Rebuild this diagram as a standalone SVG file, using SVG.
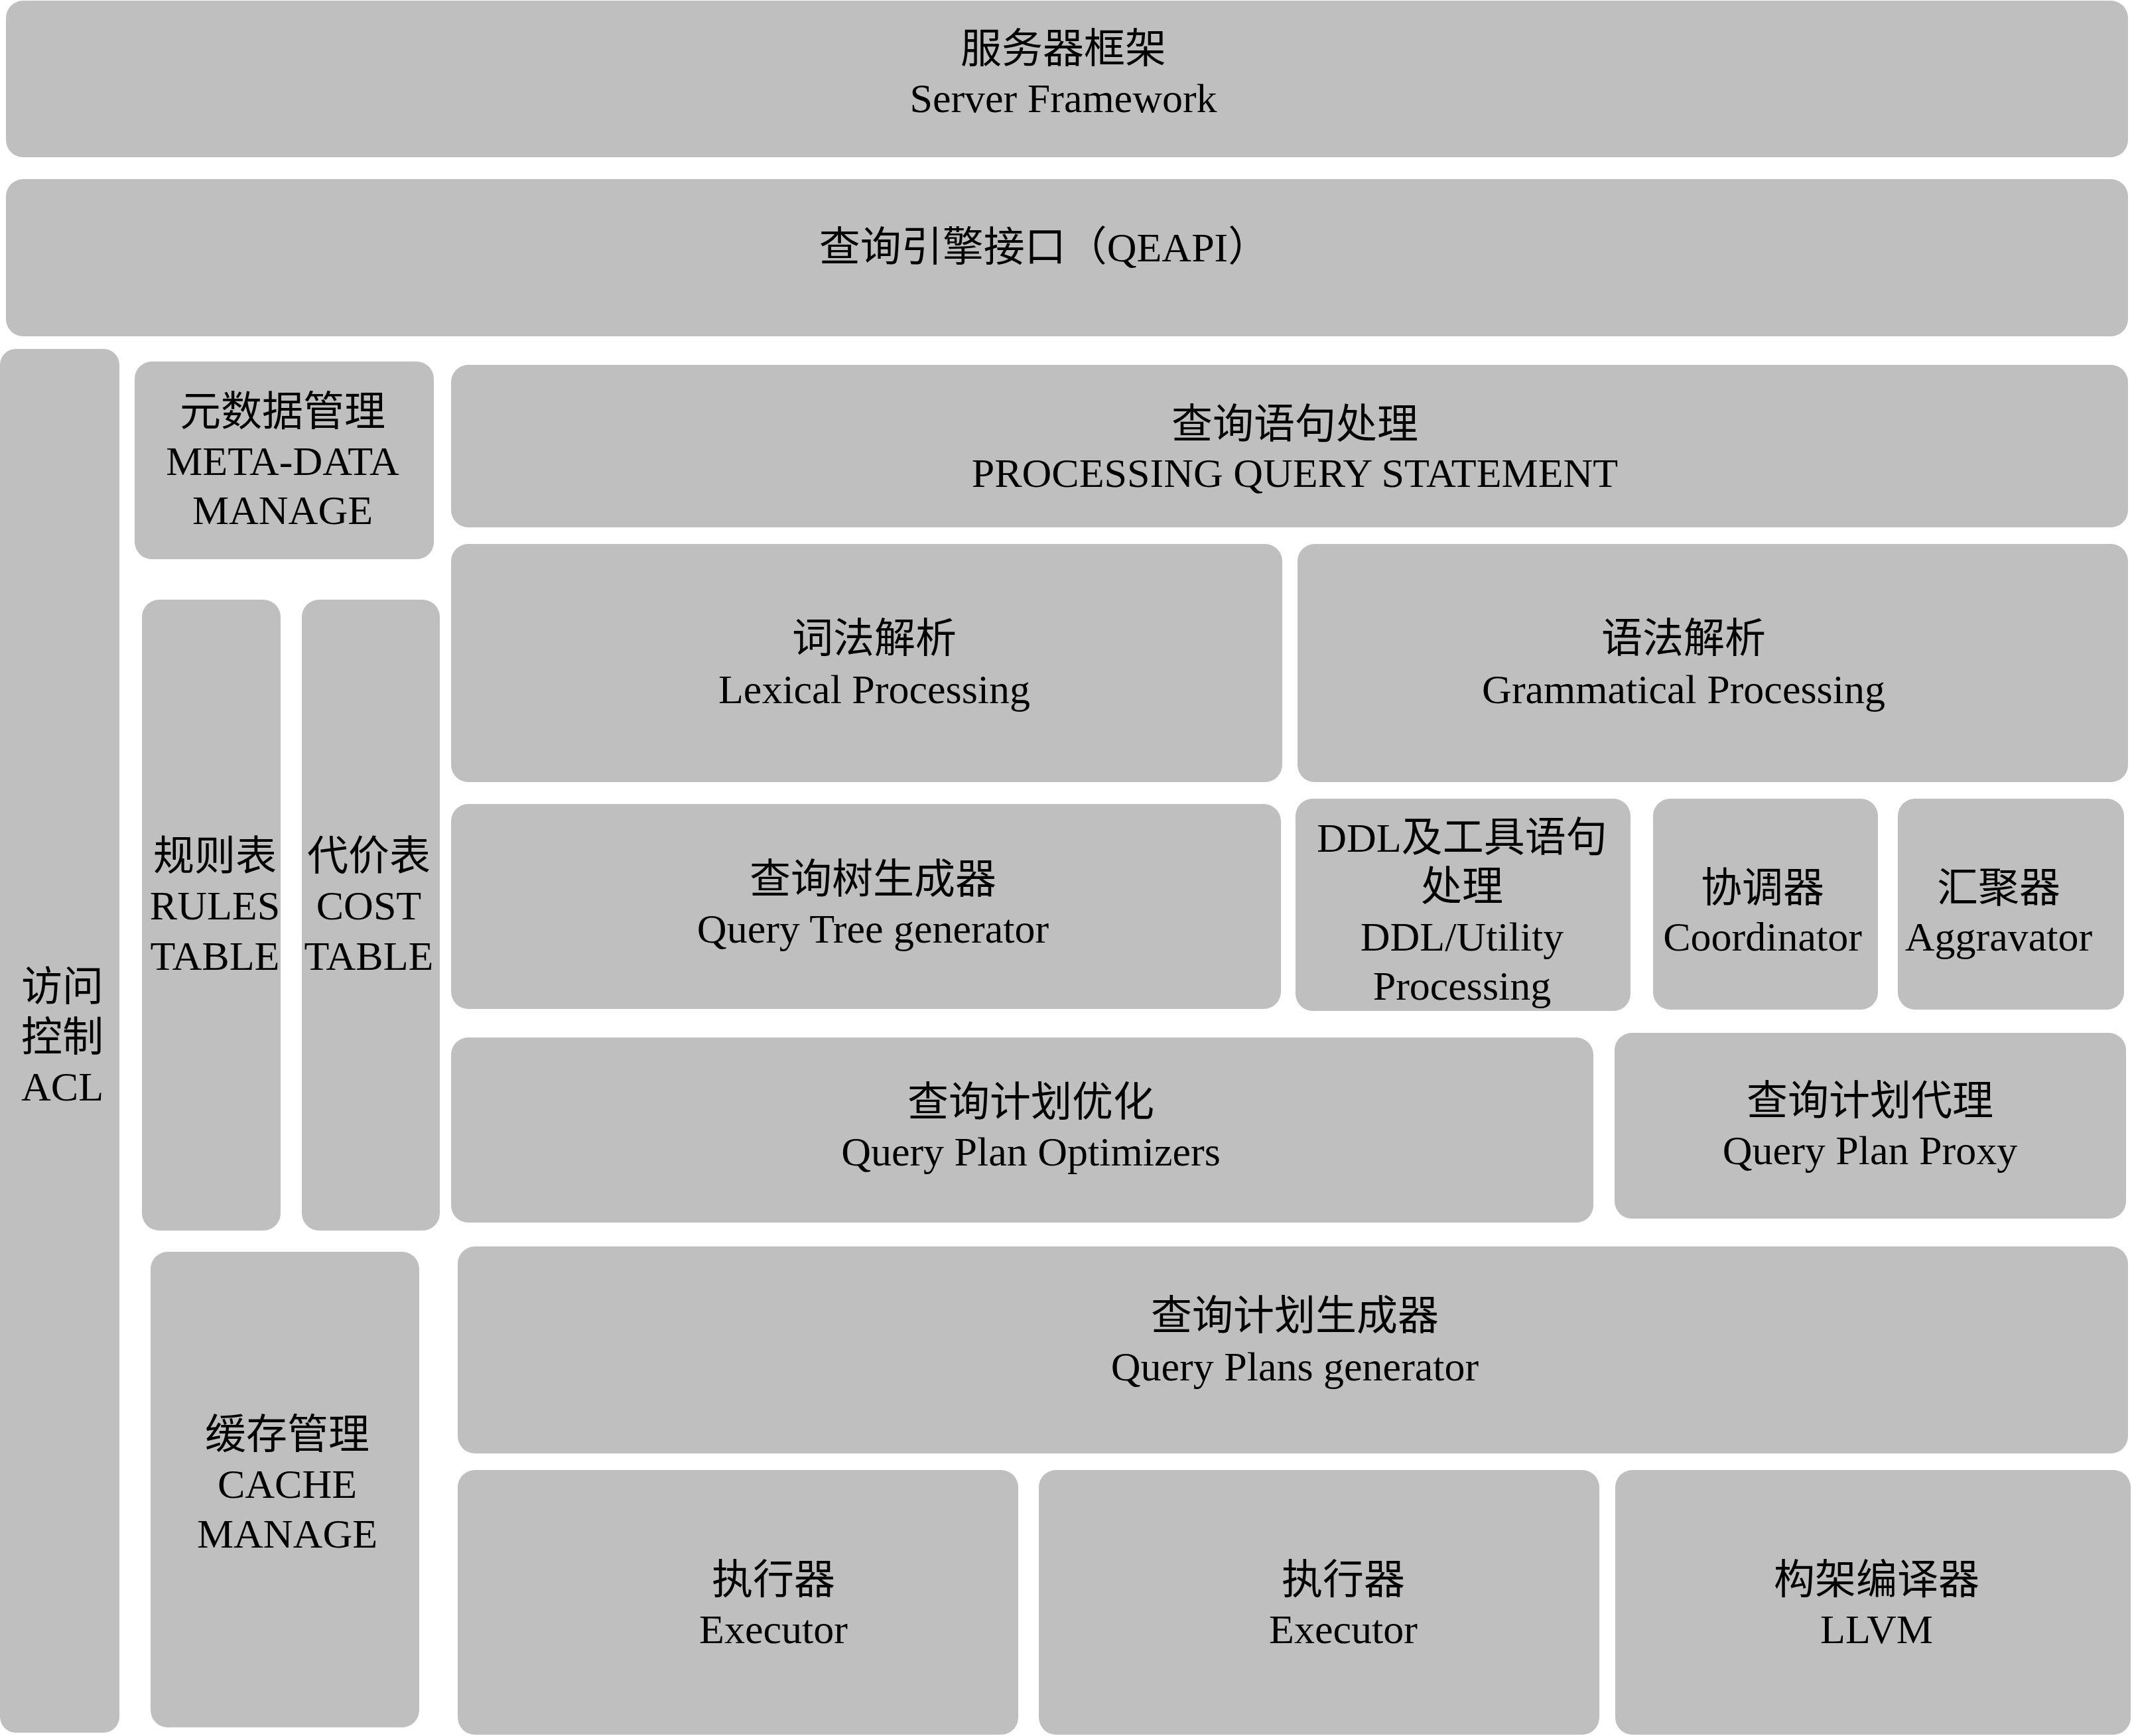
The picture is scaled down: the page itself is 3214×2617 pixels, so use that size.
<svg xmlns="http://www.w3.org/2000/svg" width="3214" height="2617" viewBox="0 0 3214 2617">
<style>
.b{fill:#bfbfbf;}
text{font-family:"Liberation Serif","Noto Sans CJK SC",serif;font-size:62px;fill:#000;text-anchor:middle;}
</style>
<rect width="3214" height="2617" fill="#ffffff"/>
<g id="server-framework"><rect class="b" x="9" y="1" width="3199" height="236" rx="26"/>
<text x="1603" y="95">服务器框架</text><text x="1603" y="169">Server Framework</text></g>
<g id="qeapi"><rect class="b" x="9" y="270" width="3199" height="237" rx="26"/>
<text x="1574" y="394">查询引擎接口（QEAPI）</text></g>
<g id="acl"><rect class="b" x="0" y="526" width="180" height="2086" rx="24"/>
<text x="94" y="1509">访问</text><text x="94" y="1585">控制</text><text x="94" y="1659">ACL</text></g>
<g id="meta-data"><rect class="b" x="203" y="545" width="451" height="298" rx="26"/>
<text x="426" y="642">元数据管理</text><text x="426" y="716">META-DATA</text><text x="426" y="790">MANAGE</text></g>
<g id="processing-query"><rect class="b" x="680" y="550" width="2528" height="245" rx="26"/>
<text x="1952" y="661">查询语句处理</text><text x="1952" y="734">PROCESSING QUERY STATEMENT</text></g>
<g id="lexical"><rect class="b" x="680" y="820" width="1253" height="359" rx="26"/>
<text x="1318" y="984">词法解析</text><text x="1318" y="1060">Lexical Processing</text></g>
<g id="grammatical"><rect class="b" x="1956" y="820" width="1252" height="359" rx="26"/>
<text x="2538" y="984">语法解析</text><text x="2538" y="1060">Grammatical Processing</text></g>
<g id="rules-table"><rect class="b" x="214" y="904" width="209" height="951" rx="26"/>
<text x="324" y="1312">规则表</text><text x="324" y="1386">RULES</text><text x="324" y="1462">TABLE</text></g>
<g id="cost-table"><rect class="b" x="455" y="904" width="208" height="951" rx="26"/>
<text x="556" y="1312">代价表</text><text x="556" y="1386">COST</text><text x="556" y="1462">TABLE</text></g>
<g id="query-tree"><rect class="b" x="680" y="1212" width="1251" height="309" rx="26"/>
<text x="1316" y="1347">查询树生成器</text><text x="1316" y="1421">Query Tree generator</text></g>
<g id="ddl"><rect class="b" x="1953" y="1204" width="505" height="320" rx="26"/>
<text x="2204" y="1284">DDL及工具语句</text><text x="2204" y="1358">处理</text><text x="2204" y="1433">DDL/Utility</text><text x="2204" y="1507">Processing</text></g>
<g id="coordinator"><rect class="b" x="2492" y="1204" width="339" height="318" rx="26"/>
<text x="2657" y="1360">协调器</text><text x="2657" y="1433">Coordinator</text></g>
<g id="aggravator"><rect class="b" x="2861" y="1204" width="341" height="318" rx="26"/>
<text x="3013" y="1360">汇聚器</text><text x="3013" y="1433">Aggravator</text></g>
<g id="optimizers"><rect class="b" x="680" y="1564" width="1722" height="279" rx="26"/>
<text x="1554" y="1683">查询计划优化</text><text x="1554" y="1757">Query Plan Optimizers</text></g>
<g id="proxy"><rect class="b" x="2434" y="1557" width="771" height="280" rx="26"/>
<text x="2819" y="1681">查询计划代理</text><text x="2819" y="1755">Query Plan Proxy</text></g>
<g id="cache"><rect class="b" x="227" y="1887" width="405" height="717" rx="26"/>
<text x="433" y="2184">缓存管理</text><text x="433" y="2258">CACHE</text><text x="433" y="2333">MANAGE</text></g>
<g id="plans-generator"><rect class="b" x="690" y="1879" width="2518" height="312" rx="26"/>
<text x="1952" y="2005">查询计划生成器</text><text x="1952" y="2081">Query Plans generator</text></g>
<g id="executor1"><rect class="b" x="690" y="2216" width="845" height="399" rx="26"/>
<text x="1166" y="2403">执行器</text><text x="1166" y="2477">Executor</text></g>
<g id="executor2"><rect class="b" x="1566" y="2216" width="845" height="399" rx="26"/>
<text x="2025" y="2403">执行器</text><text x="2025" y="2477">Executor</text></g>
<g id="llvm"><rect class="b" x="2435" y="2216" width="777" height="399" rx="26"/>
<text x="2829" y="2403">构架编译器</text><text x="2829" y="2477">LLVM</text></g>
<g id="connectors"></g>
</svg>
